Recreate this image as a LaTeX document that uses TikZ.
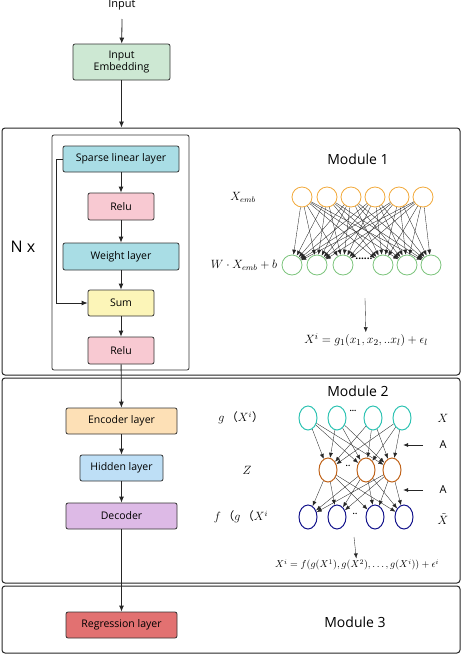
\documentclass[tikz,border=0pt]{standalone}
\usepackage{fontspec}
\setmainfont{Open Sans}
\newfontfamily\cjk{Noto Sans CJK SC}
\usetikzlibrary{arrows.meta,shapes.geometric}

\definecolor{embgreen}{HTML}{CDE8D3}
\definecolor{laycyan}{HTML}{A9DDE5}
\definecolor{relupink}{HTML}{F8C9D2}
\definecolor{sumyellow}{HTML}{FCF5B8}
\definecolor{encorange}{HTML}{FDE0B6}
\definecolor{hidblue}{HTML}{BEDFF6}
\definecolor{decpurple}{HTML}{DDBAE6}
\definecolor{regred}{HTML}{E27171}
\definecolor{nodeorange}{HTML}{F2A93B}
\definecolor{nodegreen}{HTML}{7CC47C}
\definecolor{nodeteal}{HTML}{2FC3B3}
\definecolor{nodebrown}{HTML}{C0631A}
\definecolor{nodeblue}{HTML}{14148C}

\begin{document}
\begin{tikzpicture}[x=1pt,y=-1pt,
    layer/.style={rectangle, draw=black!80, line width=0.8pt, rounded corners=2pt,
        inner sep=0pt, minimum height=26pt, font=\fontsize{10.5}{12}\selectfont},
    modbox/.style={rectangle, draw=black!85, line width=1pt, rounded corners=3pt, inner sep=0pt},
    arr/.style={-{Latex[length=6pt,width=5pt]}, line width=0.8pt, black!85},
    edge/.style={-{Latex[length=5pt,width=4pt]}, line width=0.35pt, black!85},
    neuron/.style={circle, draw, line width=0.8pt, minimum size=20pt, inner sep=0pt},
    unit/.style={ellipse, draw, line width=1pt, minimum width=18pt, minimum height=24pt, inner sep=0pt},
    mlabel/.style={font=\fontsize{14}{16}\selectfont},
    flabel/.style={font=\fontsize{11.5}{13}\selectfont, inner sep=1pt}]
    \useasboundingbox (0,0) rectangle (462,656);

    % Modules
    \node [modbox, minimum width=458pt, minimum height=247pt] (mod1) at (231,251.5) {};
    \node [modbox, minimum width=458pt, minimum height=205pt] (mod2) at (231,480.5) {};
    \node [modbox, minimum width=458pt, minimum height=67pt] (mod3) at (231,619.5) {};
    \node [rectangle, draw=black!80, line width=0.8pt, rounded corners=2pt, minimum width=137pt, minimum height=235pt] (block) at (120.5,252.5) {};

    % Input
    \node [font=\fontsize{11}{13}\selectfont, inner sep=1pt] (input) at (122,5) {Input};
    \node [layer, fill=embgreen, minimum width=97pt, minimum height=36pt, align=center] (emb) at (121.5,62) {Input\\Embedding};
    \draw[arr] (122,19) -- (emb);
    \draw[arr] (emb) -- (emb |- mod1.north);

    % Module 1 layers
    \node [layer, fill=laycyan, minimum width=116pt] (sparse) at (121,159) {Sparse linear layer};
    \node [layer, fill=relupink, minimum width=66pt, minimum height=27pt] (relua) at (121,206.5) {Relu};
    \node [layer, fill=laycyan, minimum width=116pt, minimum height=27pt] (weight) at (121,256.5) {Weight layer};
    \node [layer, fill=sumyellow, minimum width=66pt] (sum) at (121,303) {Sum};
    \node [layer, fill=relupink, minimum width=66pt, minimum height=27pt] (relub) at (121,350.5) {Relu};
    \draw[arr] (sparse) -- (relua);
    \draw[arr] (relua) -- (weight);
    \draw[arr] (weight) -- (sum);
    \draw[arr] (sum) -- (relub);
    \draw[arr] (sparse.west) -- ++(-6,0) |- (sum.west);
    \node [font=\fontsize{16}{18}\selectfont] (nx) at (23,247) {N x};

    % Module 1 network
    \node [mlabel] (m1) at (358,159) {Module 1};
    \node [flabel] (xemb) at (243,197) {$X_{emb}$};
    \node [flabel] (wxb) at (244,265) {$W\cdot X_{emb}+b$};
    \foreach \x [count=\i] in {302,327,351,375,399,423}
        \node [neuron, draw=nodeorange] (o\i) at (\x,197) {};
    \foreach \x [count=\i] in {292,317,343,383,407,431}
        \node [neuron, draw=nodegreen] (g\i) at (\x,265) {};
    \foreach \i in {1,...,6}
        \foreach \j in {1,...,6}
            \draw[edge] (o\i) -- (g\j);
    \node [font=\bfseries] (gdots) at (364,259) {......};
    \coordinate (m1top) at (365,298);
    \node [flabel, font=\fontsize{12.5}{14}\selectfont] (eq1) at (366,340) {$X^i=g_1(x_1,x_2,..x_l)+\epsilon_l$};
    \draw[edge] (m1top) -- (eq1);

    % Module 2 layers
    \node [layer, fill=encorange, minimum width=111pt] (enc) at (121.5,421) {Encoder layer};
    \node [layer, fill=hidblue, minimum width=83pt] (hid) at (121.5,468) {Hidden layer};
    \node [layer, fill=decpurple, minimum width=111pt] (dec) at (121.5,516) {Decoder};
    \draw[arr] (relub) -- (enc);
    \draw[arr] (enc) -- (hid);
    \draw[arr] (hid) -- (dec);

    % Module 2 network
    \node [mlabel] (m2) at (358,391) {Module 2};
    \node [flabel] (gx) at (241,418) {$g$\,{\cjk （}$X^i${\cjk ）}};
    \node [flabel, font=\fontsize{13}{15}\selectfont] (zl) at (247,470) {$Z$};
    \node [flabel] (fgx) at (241,517) {$f$\,{\cjk （}$g$\,{\cjk （}$X^i$};
    \node [flabel, font=\fontsize{13}{15}\selectfont] (xl) at (443,418) {$X$};
    \node [flabel, font=\fontsize{13}{15}\selectfont] (xtl) at (443,519) {$\tilde{X}$};
    \foreach \x [count=\i] in {308,337,373,402}
        \node [unit, draw=nodeteal] (t\i) at (\x,418) {};
    \foreach \x [count=\i] in {328,366,392}
        \node [unit, draw=nodebrown] (z\i) at (\x,470) {};
    \foreach \x [count=\i] in {308,337,375,404}
        \node [unit, draw=nodeblue] (b\i) at (\x,517) {};
    \foreach \i in {1,...,4}
        \foreach \j in {1,...,3}
            \draw[edge] (t\i) -- (z\j);
    \foreach \i in {1,...,3}
        \foreach \j in {1,...,4}
            \draw[edge] (z\i) -- (b\j);
    \node [font=\bfseries\fontsize{8}{9}\selectfont] (tdots) at (353,411) {...};
    \node [font=\bfseries\fontsize{8}{9}\selectfont] (zdots) at (348,466) {..};
    \node [font=\bfseries\fontsize{8}{9}\selectfont] (bdots) at (355,514) {..};
    \node [font=\fontsize{11}{13}\selectfont] (aa) at (443,445) {A};
    \node [font=\fontsize{11}{13}\selectfont] (ab) at (443,490) {A};
    \coordinate (aastart) at (423,445);
    \coordinate (abstart) at (423,490);
    \draw[edge, line width=0.8pt] (aastart) -- ++(-20,0);
    \draw[edge, line width=0.8pt] (abstart) -- ++(-20,0);
    \coordinate (m2top) at (354,537);
    \node [flabel, font=\fontsize{10}{12}\selectfont] (eq2) at (357,565) {$X^i=f(g(X^1),g(X^2),\ldots,g(X^i))+\epsilon^i$};
    \draw[edge] (m2top) -- (eq2);

    % Module 3
    \node [layer, fill=regred, minimum width=111pt] (reg) at (121.5,625) {Regression layer};
    \node [mlabel] (m3) at (355,622) {Module 3};
    \draw[arr] (dec) -- (reg);
\end{tikzpicture}
\end{document}
